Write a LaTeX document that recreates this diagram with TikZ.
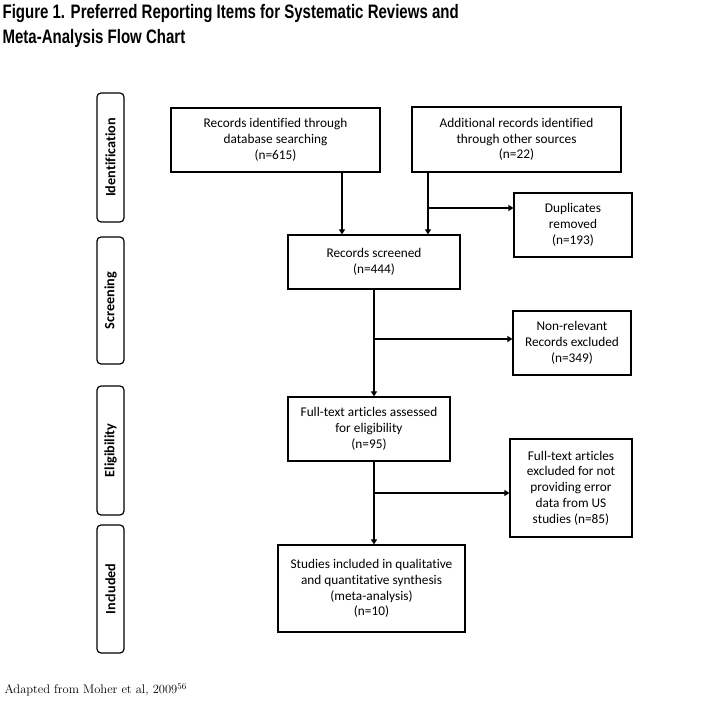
\documentclass[tikz,border=0pt]{standalone}
\usepackage{fontspec}
\newfontfamily\boxfont[Ligatures=NoCommon]{Carlito}
\newfontfamily\headfont{Liberation Sans}
\usetikzlibrary{arrows.meta,positioning}
\newcommand{\narrow}[1]{\scalebox{0.77}[1]{#1}}

\begin{document}
\begin{tikzpicture}[x=1pt, y=1pt, >={Triangle[length=5pt,width=6pt]}, line width=1.2pt,
	main node/.style={rectangle, draw, align=center, inner sep=0pt, font=\boxfont\fontsize{13.3}{15.7}\selectfont},
	stage node/.style={rectangle, draw, rounded corners=4pt, rotate=90, minimum height=27pt, inner sep=0pt, font=\boxfont\bfseries\fontsize{14.2}{16}\selectfont}]
	\useasboundingbox (0,0) rectangle (728,711);

	% title and source
	\node[anchor=north west, align=left, inner sep=0pt, font=\headfont\bfseries\fontsize{19.5}{25}\selectfont] (title) at (2,707)
		{\narrow{Figure 1. Preferred Reporting Items for Systematic Reviews and}\\\narrow{Meta-Analysis Flow Chart}};
	\node[anchor=base west, inner sep=0pt, font=\fontsize{12.5}{14}\selectfont] (src) at (4,17) {Adapted from Moher et al, 2009\textsuperscript{56}};

	% stages
	\node[stage node, minimum width=129pt] (ident) at (110.5,553.5) {Identification};
	\node[stage node, minimum width=127pt] (screen) at (110.5,410.5) {Screening};
	\node[stage node, minimum width=129pt] (elig) at (110.5,260.5) {Eligibility};
	\node[stage node, minimum width=128pt] (incl) at (110.5,122) {Included};

	% boxes
	\node[main node, minimum width=209pt, minimum height=64pt] (db) at (275.5,571) {Records identified through\\database searching\\(n=615)};
	\node[main node, minimum width=209pt, minimum height=65pt] (other) at (516.5,571.5) {Additional records identified\\through other sources\\(n=22)};
	\node[main node, minimum width=118pt, minimum height=64pt] (dup) at (573,486) {Duplicates\\removed\\(n=193)};
	\node[main node, minimum width=172pt, minimum height=54pt] (scr) at (374,449) {Records screened\\(n=444)};
	\node[main node, minimum width=118pt, minimum height=64pt] (nonrel) at (572,368) {Non-relevant\\Records excluded\\(n=349)};
	\node[main node, minimum width=162pt, minimum height=64pt] (full) at (369,282) {Full-text articles assessed\\for eligibility\\(n=95)};
	\node[main node, minimum width=122pt, minimum height=98pt] (excl) at (571,223) {Full-text articles\\excluded for not\\providing error\\data from US\\studies (n=85)};
	\node[main node, minimum width=187pt, minimum height=87pt] (study) at (371.5,122.5) {Studies included in qualitative\\and quantitative synthesis\\(meta-analysis)\\(n=10)};

	% connectors
	\coordinate (dbx) at (342,0);
	\coordinate (otx) at (428,0);
	\coordinate (mainx) at (374,0);
	\coordinate (dupj) at (428,503);
	\coordinate (nrj) at (374,372);
	\coordinate (exj) at (374,218);
	\draw[->] (db.south -| dbx) -- (scr.north -| dbx);
	\draw[->] (other.south -| otx) -- (scr.north -| otx);
	\draw[->] (dupj) -- (dupj -| dup.west);
	\draw[->] (scr.south -| mainx) -- (full.north -| mainx);
	\draw[->] (nrj) -- (nrj -| nonrel.west);
	\draw[->] (full.south -| mainx) -- (study.north -| mainx);
	\draw[->] (exj) -- (exj -| excl.west);
\end{tikzpicture}
\end{document}
